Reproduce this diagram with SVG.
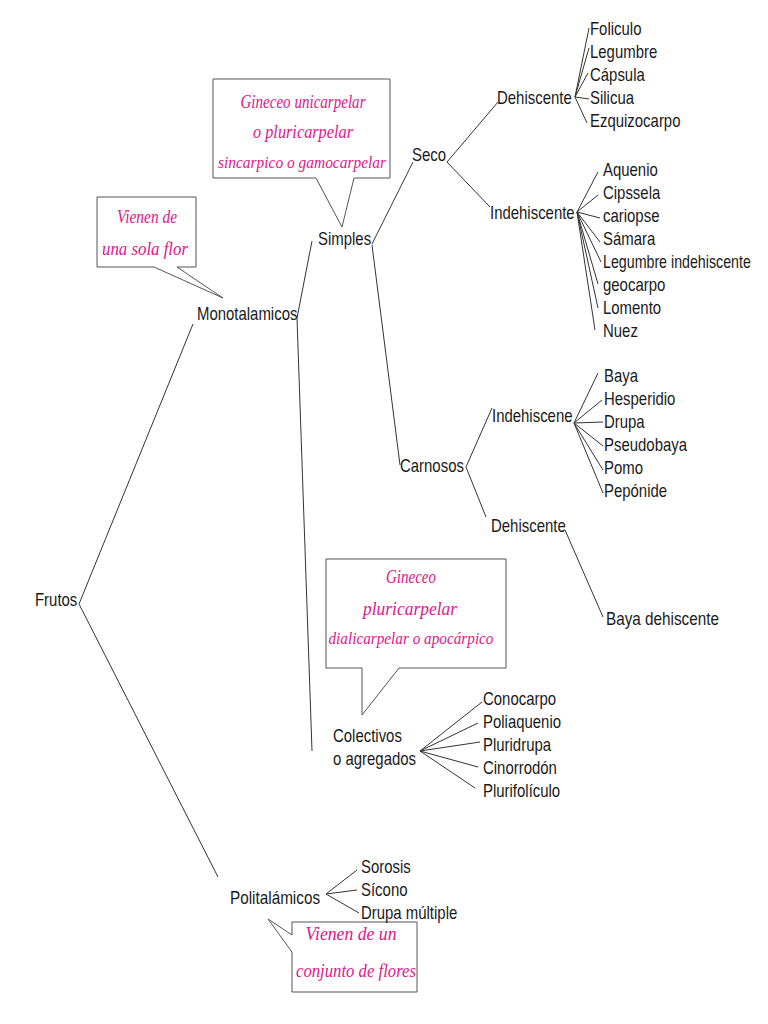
<svg xmlns="http://www.w3.org/2000/svg" width="768" height="1024" viewBox="0 0 768 1024">
<style>
.t{font-family:"Liberation Sans",Arial,sans-serif;font-size:18px;fill:#1a1a1a}
.p{font-family:"Liberation Serif","DejaVu Serif",serif;font-style:italic;font-size:18px;fill:#e0168a;text-anchor:middle}
.c{fill:#fff;stroke:#555;stroke-width:1}
#connectors line{stroke:#333;stroke-width:1}
</style>
<rect width="768" height="1024" fill="#fff"/>
<g id="connectors">
<line x1="79" y1="604" x2="193" y2="324"/>
<line x1="79" y1="604" x2="218" y2="877"/>
<line x1="297" y1="318" x2="312" y2="241"/>
<line x1="297" y1="318" x2="312" y2="751"/>
<line x1="372" y1="244" x2="413" y2="162"/>
<line x1="372" y1="245" x2="400" y2="465"/>
<line x1="447" y1="162" x2="498" y2="102"/>
<line x1="447" y1="162" x2="490" y2="207"/>
<line x1="575" y1="97" x2="589" y2="28"/>
<line x1="575" y1="97" x2="589" y2="48"/>
<line x1="575" y1="97" x2="588" y2="73"/>
<line x1="575" y1="97" x2="589" y2="99"/>
<line x1="575" y1="97" x2="587" y2="123"/>
<line x1="577" y1="212" x2="598" y2="172"/>
<line x1="577" y1="212" x2="598" y2="195"/>
<line x1="577" y1="212" x2="600" y2="218"/>
<line x1="577" y1="212" x2="600" y2="242"/>
<line x1="577" y1="212" x2="601" y2="262"/>
<line x1="577" y1="212" x2="598" y2="284"/>
<line x1="577" y1="212" x2="598" y2="308"/>
<line x1="577" y1="212" x2="595" y2="330"/>
<line x1="466" y1="467" x2="492" y2="408"/>
<line x1="466" y1="467" x2="486" y2="517"/>
<line x1="574" y1="423" x2="598" y2="373"/>
<line x1="574" y1="423" x2="602" y2="400"/>
<line x1="574" y1="423" x2="603" y2="422"/>
<line x1="574" y1="423" x2="603" y2="446"/>
<line x1="574" y1="423" x2="603" y2="470"/>
<line x1="574" y1="423" x2="603" y2="493"/>
<line x1="565" y1="530" x2="603" y2="617"/>
<line x1="420" y1="751" x2="482" y2="702"/>
<line x1="420" y1="751" x2="478" y2="723"/>
<line x1="420" y1="751" x2="480" y2="742"/>
<line x1="420" y1="751" x2="478" y2="767"/>
<line x1="420" y1="751" x2="475" y2="788"/>
<line x1="326" y1="894" x2="357" y2="870"/>
<line x1="326" y1="894" x2="357" y2="890"/>
<line x1="326" y1="894" x2="359" y2="913"/>
</g>
<g id="callout-simples">
<path class="c" d="M213,79 H390 V178 H354 L342,227 L316,178 H213 Z"/>
<text class="p" x="303" y="108" textLength="125" lengthAdjust="spacingAndGlyphs">Gineceo unicarpelar</text>
<text class="p" x="303" y="138" textLength="100" lengthAdjust="spacingAndGlyphs">o pluricarpelar</text>
<text class="p" x="302" y="168" style="font-size:17px" textLength="168" lengthAdjust="spacingAndGlyphs">sincarpico o gamocarpelar</text>
</g>
<g id="callout-mono">
<path class="c" d="M97,197 H196 V267 H177 L223,298 L154,267 H97 Z"/>
<text class="p" x="147" y="223" textLength="60" lengthAdjust="spacingAndGlyphs">Vienen de</text>
<text class="p" x="145" y="255" textLength="86" lengthAdjust="spacingAndGlyphs">una sola flor</text>
</g>
<g id="callout-colectivos">
<path class="c" d="M326,559 H506 V668 H399 L362,715 L362,668 H326 Z"/>
<text class="p" x="411" y="583" textLength="50" lengthAdjust="spacingAndGlyphs">Gineceo</text>
<text class="p" x="410" y="615" textLength="94" lengthAdjust="spacingAndGlyphs">pluricarpelar</text>
<text class="p" x="411" y="644" style="font-size:17px" textLength="165" lengthAdjust="spacingAndGlyphs">dialicarpelar o apocárpico</text>
</g>
<g id="callout-poli">
<path class="c" d="M292,922 H417 V992 H292 V952 L268,919 L292,935 Z"/>
<text class="p" x="351" y="940" textLength="91" lengthAdjust="spacingAndGlyphs">Vienen de un</text>
<text class="p" x="356" y="977" textLength="120" lengthAdjust="spacingAndGlyphs">conjunto de flores</text>
</g>
<g id="frutos"><text class="t" transform="translate(35 606) scale(0.83 1)">Frutos</text></g>
<g id="monotalamicos"><text class="t" transform="translate(197 320) scale(0.83 1)">Monotalamicos</text></g>
<g id="simples"><text class="t" transform="translate(318 245) scale(0.83 1)">Simples</text></g>
<g id="seco"><text class="t" transform="translate(412 161) scale(0.83 1)">Seco</text></g>
<g id="dehiscente-seco"><text class="t" transform="translate(497 104) scale(0.83 1)">Dehiscente</text></g>
<g id="dehiscente-seco-leaves">
<text class="t" transform="translate(590 35) scale(0.83 1)">Foliculo</text>
<text class="t" transform="translate(590 58) scale(0.83 1)">Legumbre</text>
<text class="t" transform="translate(590 81) scale(0.83 1)">Cápsula</text>
<text class="t" transform="translate(590 104) scale(0.83 1)">Silicua</text>
<text class="t" transform="translate(590 127) scale(0.83 1)">Ezquizocarpo</text>
</g>
<g id="indehiscente-seco"><text class="t" transform="translate(490 219) scale(0.83 1)">Indehiscente</text></g>
<g id="indehiscente-seco-leaves">
<text class="t" transform="translate(603 176) scale(0.83 1)">Aquenio</text>
<text class="t" transform="translate(603 199) scale(0.83 1)">Cipssela</text>
<text class="t" transform="translate(603 222) scale(0.83 1)">cariopse</text>
<text class="t" transform="translate(603 245) scale(0.83 1)">Sámara</text>
<text class="t" transform="translate(603 268) scale(0.79 1)">Legumbre indehiscente</text>
<text class="t" transform="translate(603 291) scale(0.83 1)">geocarpo</text>
<text class="t" transform="translate(603 314) scale(0.83 1)">Lomento</text>
<text class="t" transform="translate(603 337) scale(0.83 1)">Nuez</text>
</g>
<g id="carnosos"><text class="t" transform="translate(400 472) scale(0.83 1)">Carnosos</text></g>
<g id="indehiscene"><text class="t" transform="translate(492 422) scale(0.83 1)">Indehiscene</text></g>
<g id="indehiscene-leaves">
<text class="t" transform="translate(604 382) scale(0.83 1)">Baya</text>
<text class="t" transform="translate(604 405) scale(0.83 1)">Hesperidio</text>
<text class="t" transform="translate(604 428) scale(0.83 1)">Drupa</text>
<text class="t" transform="translate(604 451) scale(0.83 1)">Pseudobaya</text>
<text class="t" transform="translate(604 474) scale(0.83 1)">Pomo</text>
<text class="t" transform="translate(604 497) scale(0.83 1)">Pepónide</text>
</g>
<g id="dehiscente-carnoso"><text class="t" transform="translate(491 532) scale(0.83 1)">Dehiscente</text></g>
<g id="baya-dehiscente"><text class="t" transform="translate(606 625) scale(0.85 1)">Baya dehiscente</text></g>
<g id="colectivos">
<text class="t" transform="translate(333 742) scale(0.83 1)">Colectivos</text>
<text class="t" transform="translate(333 765) scale(0.83 1)">o agregados</text>
</g>
<g id="colectivos-leaves">
<text class="t" transform="translate(483 705) scale(0.83 1)">Conocarpo</text>
<text class="t" transform="translate(483 728) scale(0.83 1)">Poliaquenio</text>
<text class="t" transform="translate(483 751) scale(0.83 1)">Pluridrupa</text>
<text class="t" transform="translate(483 774) scale(0.83 1)">Cinorrodón</text>
<text class="t" transform="translate(483 797) scale(0.83 1)">Plurifolículo</text>
</g>
<g id="politalamicos"><text class="t" transform="translate(230 904) scale(0.85 1)">Politalámicos</text></g>
<g id="politalamicos-leaves">
<text class="t" transform="translate(361 873) scale(0.83 1)">Sorosis</text>
<text class="t" transform="translate(361 896) scale(0.83 1)">Sícono</text>
<text class="t" transform="translate(361 919) scale(0.83 1)">Drupa múltiple</text>
</g>
</svg>
